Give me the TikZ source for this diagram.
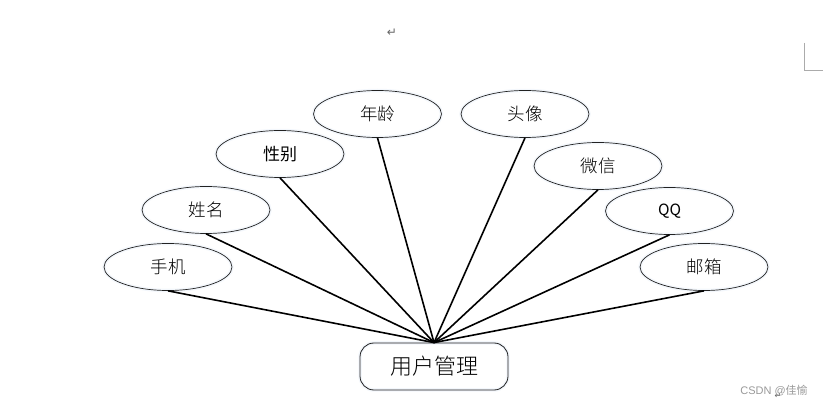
\documentclass[tikz,border=0pt]{standalone}
\usepackage{fontspec}
\setmainfont{Liberation Sans}
\newfontfamily\cjk{Noto Sans CJK SC}
\newfontfamily\cjklight{Noto Sans CJK SC Light}
\newfontfamily\symb{DejaVu Sans}
\usetikzlibrary{shapes.geometric}
\definecolor{haze}{HTML}{F3F7FC}
\definecolor{edgegray}{HTML}{222222}
\definecolor{cropgray}{HTML}{ABABAB}
\definecolor{wmgray}{HTML}{9A9A9A}
\tikzset{
  attr/.style={ellipse,draw=edgegray,line width=0.7pt,minimum width=128pt,minimum height=47pt,inner sep=0pt,
    font=\cjklight\fontsize{17.5}{19}\selectfont,text=black,preaction={draw=haze,line width=3.5pt}},
  attrbold/.style={attr,font=\cjk\fontsize{17}{19}\selectfont,text=black},
  qqbox/.style={attr,font=\cjk\fontsize{15.5}{19}\selectfont,text=black},
  rootbox/.style={rectangle,rounded corners=14pt,draw=edgegray,line width=0.8pt,minimum width=148pt,minimum height=47pt,inner sep=0pt,
    font=\cjklight\fontsize{22}{24}\selectfont,text=black,preaction={draw=haze,line width=3.5pt}},
  link/.style={draw=black,line width=1.6pt},
  ghost/.style={inner sep=0pt,text=black!60}
}
\begin{document}
\begin{tikzpicture}[x=1pt,y=-1pt]
\useasboundingbox[fill=white] (0,0) rectangle (823,406);
\node[attr] (shouji) at (168,267) {手机};
\node[attr] (xingming) at (206,210) {姓名};
\node[attrbold] (xingbie) at (280,154) {性别};
\node[attr] (nianling) at (377.5,114) {年龄};
\node[attr] (touxiang) at (525,114) {头像};
\node[attr] (weixin) at (598,166) {微信};
\node[qqbox] (qq) at (669.5,211) {QQ};
\node[attr] (youxiang) at (704,267) {邮箱};
\node[rootbox] (root) at (434,366.5) {用户管理};
\foreach \n in {shouji,xingming,xingbie,nianling,touxiang,weixin,qq,youxiang}
  \draw[link] (\n.south) -- (root.north);
\node[ghost,font=\symb\fontsize{12}{13}\selectfont] (para) at (392,32.5) {↵};
\draw[cropgray,line width=1pt] (804.5,43) -- (804.5,70.5) -- (823,70.5);
\node[inner sep=0pt,text=wmgray,font=\fontsize{11}{12}\selectfont] (csdn) at (774,391) {CSDN @{\cjk 佳愉}};
\node[ghost,font=\symb\fontsize{8}{9}\selectfont] (para2) at (778,396) {↵};
\end{tikzpicture}
\end{document}
